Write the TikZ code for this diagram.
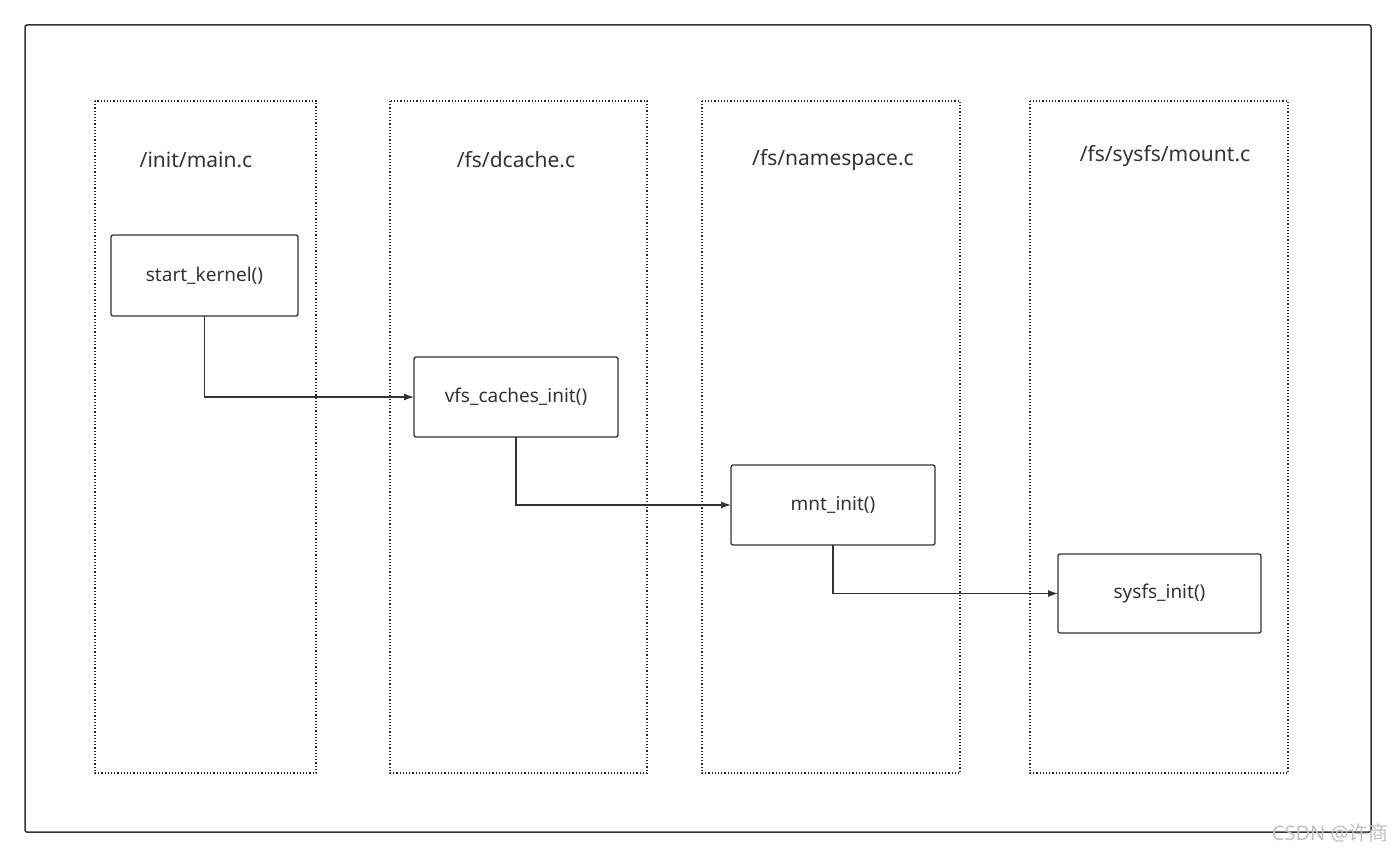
\documentclass[tikz,border=0pt]{standalone}
\usepackage{fontspec}
\setmainfont{Noto Sans}
\newfontfamily\cjk{Noto Sans CJK SC}
\usetikzlibrary{arrows.meta}
\begin{document}
\begin{tikzpicture}[x=1pt,y=-1pt,
  panel/.style={draw=black!85,line width=1.2pt,dotted},
  fn/.style={draw=black!80,line width=1.3pt,rounded corners=2pt,fill=white},
  ttl/.style={font=\fontsize{21}{24}\selectfont,text=black!80},
  lbl/.style={font=\fontsize{19}{22}\selectfont,text=black!80},
  conn/.style={draw=black!80,line width=1.3pt,-{Latex[length=10pt,width=7pt]}}]
\useasboundingbox (0,0) rectangle (1396,858);
\draw[black!80,line width=1.5pt,rounded corners=2pt] (25,25) rectangle (1371,832);
\draw[panel] (95,101) rectangle (316,773);
\draw[panel] (390,101) rectangle (647,773);
\draw[panel] (702,101) rectangle (960,773);
\draw[panel] (1030,101) rectangle (1288,773);
\node[ttl] (t1) at (196,160) {/init/main.c};
\node[ttl] (t2) at (516,160) {/fs/dcache.c};
\node[ttl] (t3) at (833,160) {/fs/namespace.c};
\node[ttl] (t4) at (1165,156) {/fs/sysfs/mount.c};
\draw[fn] (111,235) rectangle (298,316); \node[lbl] (a) at (204.5,275.5) {start\_kernel()};
\draw[fn] (414,357) rectangle (618,437); \node[lbl] (b) at (516,397) {vfs\_caches\_init()};
\draw[fn] (731,465) rectangle (935,545); \node[lbl] (c) at (833,505) {mnt\_init()};
\draw[fn] (1058,554) rectangle (1261,633); \node[lbl] (d) at (1159.5,593.5) {sysfs\_init()};
\coordinate (as) at (204.5,316); \coordinate (bw) at (414,397);
\coordinate (bs) at (516,437); \coordinate (cw) at (731,505);
\coordinate (cs) at (833,545); \coordinate (dw) at (1058,593.5);
\draw[conn] (as) |- (bw);
\draw[conn] (bs) |- (cw);
\draw[conn] (cs) |- (dw);
\node[font=\fontsize{20}{22}\selectfont,text=black!25,anchor=east] (wm) at (1392,833) {CSDN @{\cjk 许商}};
\end{tikzpicture}
\end{document}
